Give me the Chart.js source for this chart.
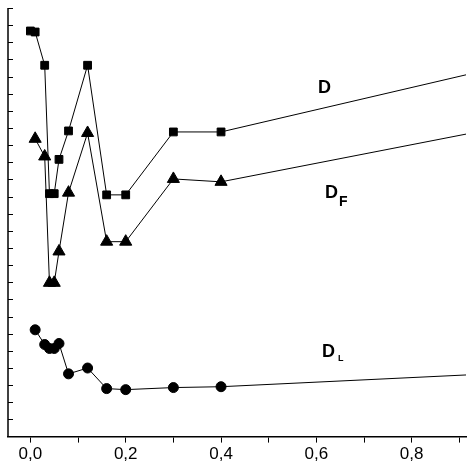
<!DOCTYPE html>
<html>
<head>
<style>body{margin:0;background:#fff}#wrap{width:474px;height:474px}</style>
</head>
<body>
<div id="wrap"><canvas id="myChart"></canvas></div>
<script src="https://cdn.jsdelivr.net/npm/chart.js"></script>
<script>
const xD = [0, 0.01, 0.03, 0.04, 0.05, 0.06, 0.08, 0.12, 0.16, 0.2, 0.3, 0.4, 1.0];
const yD = [23.66, 23.6, 21.66, 14.17, 14.17, 16.17, 17.83, 21.66, 14.1, 14.1, 17.77, 17.77, 21.66];
const xDF = [0.01, 0.03, 0.04, 0.05, 0.06, 0.08, 0.12, 0.16, 0.2, 0.3, 0.4, 1.0];
const yDF = [17.37, 16.34, 8.97, 8.97, 10.8, 14.23, 17.71, 11.37, 11.37, 15.03, 14.86, 18.11];
const xDL = [0.01, 0.03, 0.04, 0.05, 0.06, 0.08, 0.12, 0.16, 0.2, 0.3, 0.4, 1.0];
const yDL = [6.23, 5.37, 5.14, 5.14, 5.43, 3.66, 4.0, 2.8, 2.74, 2.86, 2.91, 3.71];

const pts = (xs, ys) => xs.map((x, i) => ({x: x, y: ys[i]}));
const ds = (xs, ys, style, r) => ({
  data: pts(xs, ys), borderColor: '#000', backgroundColor: '#000', borderWidth: 1,
  pointStyle: style, pointRadius: r, pointHoverRadius: r
});

// left axis line, inner y ticks and curve labels
const deco = {
  id: 'deco',
  afterDraw(chart) {
    const c = chart.ctx, ya = chart.scales.y, a = chart.chartArea;
    c.save();
    c.strokeStyle = '#000'; c.lineWidth = 1.5;
    c.beginPath(); c.moveTo(a.left, a.top); c.lineTo(a.left, a.bottom); c.stroke();
    c.lineWidth = 1;
    for (let v = 1; v <= 25; v++) {
      const p = Math.round(ya.getPixelForValue(v)) + 0.5;
      c.beginPath(); c.moveTo(a.left, p); c.lineTo(a.left + 5, p); c.stroke();
    }
    c.fillStyle = '#000';
    c.font = 'bold 18px "Liberation Sans", Arial';
    c.fillText('D', 318, 93);
    c.fillText('D', 325, 198);
    c.fillText('D', 322, 357);
    c.font = 'bold 14px "Liberation Sans", Arial';
    c.fillText('F', 339, 206);
    c.font = 'bold 9px "Liberation Sans", Arial';
    c.fillText('L', 338, 361);
    c.restore();
  }
};

new Chart(document.getElementById('myChart'), {
  type: 'line',
  data: { datasets: [ds(xD, yD, 'rect', 5.5), ds(xDF, yDF, 'triangle', 7), ds(xDL, yDL, 'circle', 5)] },
  options: {
    responsive: true, maintainAspectRatio: false, animation: false,
    layout: { padding: { left: 3, right: -9, top: 0, bottom: 7 } },
    plugins: { legend: { display: false }, tooltip: { enabled: false } },
    scales: {
      x: {
        type: 'linear', min: -0.047, max: 0.914,
        grid: { drawOnChartArea: false, tickLength: 6, color: '#000', lineWidth: 1 },
        border: { display: true, color: '#000', width: 1.5 },
        afterBuildTicks: (s) => { s.ticks = [0,1,2,3,4,5,6,7,8,9].map(i => ({value: i / 10})); },
        ticks: {
          autoSkip: false, maxRotation: 0, color: '#000', padding: 2,
          font: { size: 17, family: '"Liberation Sans", Arial' },
          callback: (v) => { const k = Math.round(v * 10); return k % 2 ? '' : (k / 10).toFixed(1).replace('.', ','); }
        }
      },
      y: { display: false, min: 0, max: 25 }
    }
  },
  plugins: [deco]
});
</script>
</body>
</html>
